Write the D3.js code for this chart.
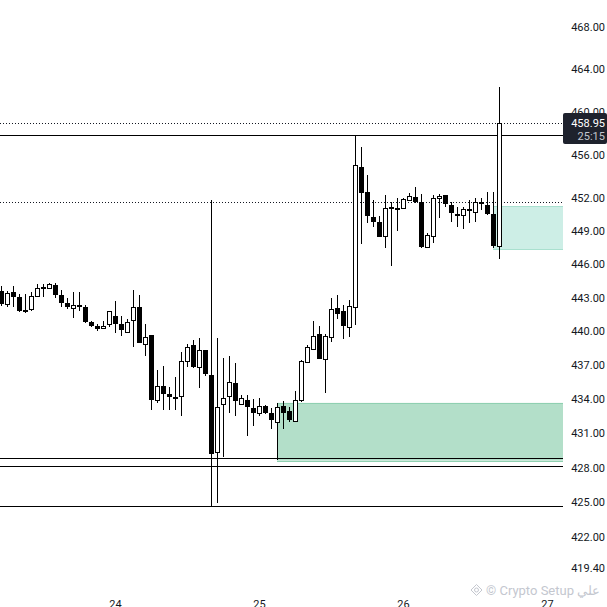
<!DOCTYPE html>
<meta charset="utf-8">
<style>
body { margin: 0; background: #fff; }
svg { display: block; font-family: Roboto, "Liberation Sans", sans-serif; }
.axis text { fill: #131722; font-size: 11px; }
</style>
<body>
<script src="https://cdn.jsdelivr.net/npm/d3@7"></script>
<script>

// hourly candles, first one 43h before day 25 00:00
var opens = [443.61,442.42,443.46,443.04,441.91,441.97,443.10,443.92,443.82,444.15,443.25,442.56,442.06,442.36,442.20,440.84,440.49,440.25,440.64,441.38,440.66,439.95,440.96,442.15,438.82,439.69,433.87,435.17,434.44,434.15,434.23,437.31,438.78,436.80,438.34,436.14,429.32,433.58,434.23,435.41,433.58,433.93,433.21,432.77,433.41,432.77,431.95,433.41,432.97,432.10,433.93,437.28,438.40,439.77,437.55,439.48,442.06,441.76,440.37,442.15,454.86,452.61,450.33,449.82,448.57,451.15,451.07,451.09,451.85,452.10,451.64,447.60,448.60,452.00,452.31,451.39,450.55,450.50,451.00,450.79,451.67,451.39,450.54,447.66];
var highs = [444.00,443.61,444.06,443.34,443.34,443.49,444.24,444.21,444.30,444.30,443.64,442.95,443.49,443.46,442.30,440.93,440.60,440.93,441.82,442.71,441.38,441.08,443.70,443.25,440.66,439.70,436.58,436.87,435.06,435.94,438.10,438.88,439.24,439.39,438.34,451.85,439.39,437.61,437.75,437.17,434.37,434.37,434.00,434.08,433.45,433.20,433.64,433.78,433.29,434.67,437.40,438.79,440.93,440.42,439.77,442.95,443.25,442.36,442.80,457.85,456.76,454.15,451.85,450.39,452.31,451.70,452.00,452.00,452.46,453.00,452.40,448.87,452.31,452.40,452.35,451.70,451.18,451.24,451.85,452.00,452.00,452.58,452.61,462.28];
var lows = [442.27,442.20,442.15,441.70,441.58,441.82,443.10,443.05,443.80,442.95,442.20,441.97,441.17,441.76,440.70,440.35,440.05,440.19,440.37,439.84,439.53,439.84,438.59,438.91,437.81,433.06,433.64,433.06,433.06,433.06,432.54,436.78,436.75,434.97,436.05,424.60,424.91,428.88,432.77,432.48,433.50,430.76,431.60,432.54,432.70,431.34,428.62,431.34,431.95,432.04,433.69,437.17,438.34,437.50,434.53,439.00,441.08,439.30,439.48,440.58,447.85,449.78,449.37,448.46,447.45,445.86,449.00,451.00,451.80,451.60,447.51,447.45,447.96,450.20,451.24,449.88,449.40,449.21,449.79,449.88,450.97,450.50,447.45,446.46];
var closes = [442.42,443.40,443.01,441.76,441.71,443.16,443.85,443.98,444.21,443.19,442.51,442.15,442.36,442.15,440.78,440.42,440.15,440.49,441.79,440.64,440.13,440.78,442.15,438.91,439.48,433.87,435.17,434.44,434.14,434.19,437.37,438.59,436.80,438.30,436.20,429.18,433.29,434.08,435.50,433.78,434.08,433.29,432.78,433.41,432.77,432.13,433.26,432.77,432.13,433.93,437.31,438.59,439.55,437.52,439.60,441.97,441.55,440.42,442.27,455.07,452.52,450.39,449.88,448.51,451.09,451.20,451.12,451.91,452.22,451.64,447.60,448.66,452.00,452.22,451.46,450.63,450.60,451.00,450.87,451.70,451.46,450.54,447.66,458.95];

var priceTicks = [468, 464, 460, 456, 452, 449, 446, 443, 440, 437, 434, 431, 428, 425, 422, 419.4];
var dayTicks = ["2023-01-24", "2023-01-25", "2023-01-26", "2023-01-27"];

var solidLevels = [457.85, 428.8, 428.15, 424.7];
var dottedLevels = [458.95, 451.7];
// zones: [first candle index, top price, bottom price]
var zones = [[46, 433.65, 428.6], [82, 451.3, 447.35]];
var zoneFill = ["#b3dfc9", "#cdeee6"];
var zoneEdge = ["#8fd0b1", "#a9e0cf"];

var lastPrice = 458.95, countdown = "25:15";

var W = 607, H = 607, plotRight = 563;
var H1 = 3600e3;
var firstTime = Date.parse("2023-01-25T00:00:00Z") - 43 * H1;

var x = d3.scaleUtc()
  .domain([Date.parse("2023-01-24T00:00:00Z"), Date.parse("2023-01-27T00:00:00Z")])
  .range([115, 547]);
var y = d3.scaleLog().domain([425, 468]).range([502.3, 26.7]);

var candles = opens.map(function(o, i) {
  return { t: firstTime + i * H1, o: o, h: highs[i], l: lows[i], c: closes[i] };
});

var svg = d3.select("body").append("svg").attr("width", W).attr("height", H);

var py = function(p) { return Math.round(y(p)) + 0.5; };

// zones
zones.forEach(function(z, i) {
  var x0 = Math.round(x(candles[z[0]].t));
  svg.append("rect")
    .attr("x", x0).attr("y", y(z[1]))
    .attr("width", plotRight - x0).attr("height", y(z[2]) - y(z[1]))
    .attr("fill", zoneFill[i]);
  [z[1], z[2]].forEach(function(p) {
    svg.append("line").attr("x1", x0).attr("x2", plotRight)
      .attr("y1", py(p)).attr("y2", py(p))
      .attr("stroke", zoneEdge[i]).attr("stroke-width", 1);
  });
});

// horizontal levels
svg.selectAll(".solid").data(solidLevels).enter().append("line")
  .attr("x1", 0).attr("x2", plotRight)
  .attr("y1", py).attr("y2", py)
  .attr("stroke", "#000").attr("stroke-width", 1);

svg.selectAll(".dotted").data(dottedLevels).enter().append("line")
  .attr("x1", 0).attr("x2", plotRight)
  .attr("y1", py).attr("y2", py)
  .attr("stroke", "#131722").attr("stroke-width", 1)
  .attr("stroke-dasharray", "1,2");

// candles
var g = svg.append("g");
var cg = g.selectAll("g").data(candles).enter().append("g");

cg.append("line")
  .attr("x1", function(d) { return Math.round(x(d.t)) + 0.5; })
  .attr("x2", function(d) { return Math.round(x(d.t)) + 0.5; })
  .attr("y1", function(d) { return Math.round(y(d.h)); })
  .attr("y2", function(d) { return Math.round(y(d.l)); })
  .attr("stroke", "#000").attr("stroke-width", 1);

cg.append("rect")
  .each(function(d) {
    var cx = Math.round(x(d.t));
    var top = Math.round(y(Math.max(d.o, d.c)));
    var bot = Math.round(y(Math.min(d.o, d.c)));
    var el = d3.select(this);
    if (d.c >= d.o) {
      el.attr("x", cx - 1.5).attr("width", 4)
        .attr("y", top + 0.5).attr("height", Math.max(1, bot - top))
        .attr("fill", "#fff").attr("stroke", "#000").attr("stroke-width", 1);
    } else {
      el.attr("x", cx - 2).attr("width", 5)
        .attr("y", top).attr("height", Math.max(1, bot - top))
        .attr("fill", "#000");
    }
  });

// price axis
var yAxis = svg.append("g").attr("class", "axis")
  .attr("transform", "translate(605,0)")
  .call(d3.axisRight(y).tickValues(priceTicks).tickFormat(d3.format(".2f")).tickSize(0));
yAxis.select(".domain").remove();
yAxis.selectAll("text").attr("x", 0).attr("text-anchor", "end")
  .style("font-size", "11px").style("font-family", "Roboto, sans-serif").attr("fill", "#131722");

// time axis
var xAxis = svg.append("g").attr("class", "axis")
  .attr("transform", "translate(0,598)")
  .call(d3.axisBottom(x)
    .tickValues(dayTicks.map(function(s) { return new Date(s + "T00:00:00Z"); }))
    .tickFormat(d3.utcFormat("%-d")).tickSize(0).tickPadding(0));
xAxis.select(".domain").remove();
xAxis.selectAll("text").attr("dy", "0.9em")
  .style("font-size", "11px").style("font-family", "Roboto, sans-serif").attr("fill", "#131722");

// last price label
svg.append("rect").attr("x", 563).attr("y", 113).attr("width", 44).attr("height", 31)
  .attr("rx", 2).attr("fill", "#1e222d");
svg.append("text").attr("x", 605).attr("y", y(lastPrice)).attr("dy", "0.35em")
  .attr("text-anchor", "end").attr("fill", "#fff")
  .style("font-size", "11px").text(lastPrice.toFixed(2));
svg.append("text").attr("x", 605).attr("y", 136).attr("dy", "0.35em")
  .attr("text-anchor", "end").attr("fill", "#c3c6ce")
  .style("font-size", "11px").text(countdown);

// watermark
var wm = svg.append("g").attr("fill", "none").attr("stroke", "#c4c7cf").attr("stroke-width", 1);
wm.append("path").attr("d", "M476.5,584.5 L482,590 L476.5,595.5 L471,590 Z");
wm.append("circle").attr("cx", 476.5).attr("cy", 590).attr("r", 2);
svg.append("text").attr("x", 486).attr("y", 595)
  .attr("fill", "#c4c7cf").style("font-size", "13px")
  .text("\u00a9 Crypto Setup \u0639\u0644\u064a");

</script>
</body>
